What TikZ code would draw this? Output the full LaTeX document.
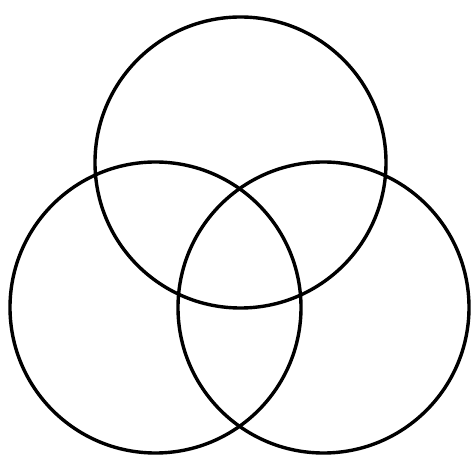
\documentclass[tikz,border=0pt]{standalone}
\begin{document}
\begin{tikzpicture}[x=1pt,y=1pt,ring/.style={draw=black,line width=3.4pt}]
\useasboundingbox[fill=white] (0,0) rectangle (474,474);
\coordinate (ct) at (240.5,311.5);
\coordinate (cl) at (155.5,166.5);
\coordinate (cr) at (323.5,166.5);
\draw[ring] (ct) circle[radius=145.5];
\draw[ring] (cl) circle[radius=145.5];
\draw[ring] (cr) circle[radius=145.5];
\end{tikzpicture}
\end{document}
